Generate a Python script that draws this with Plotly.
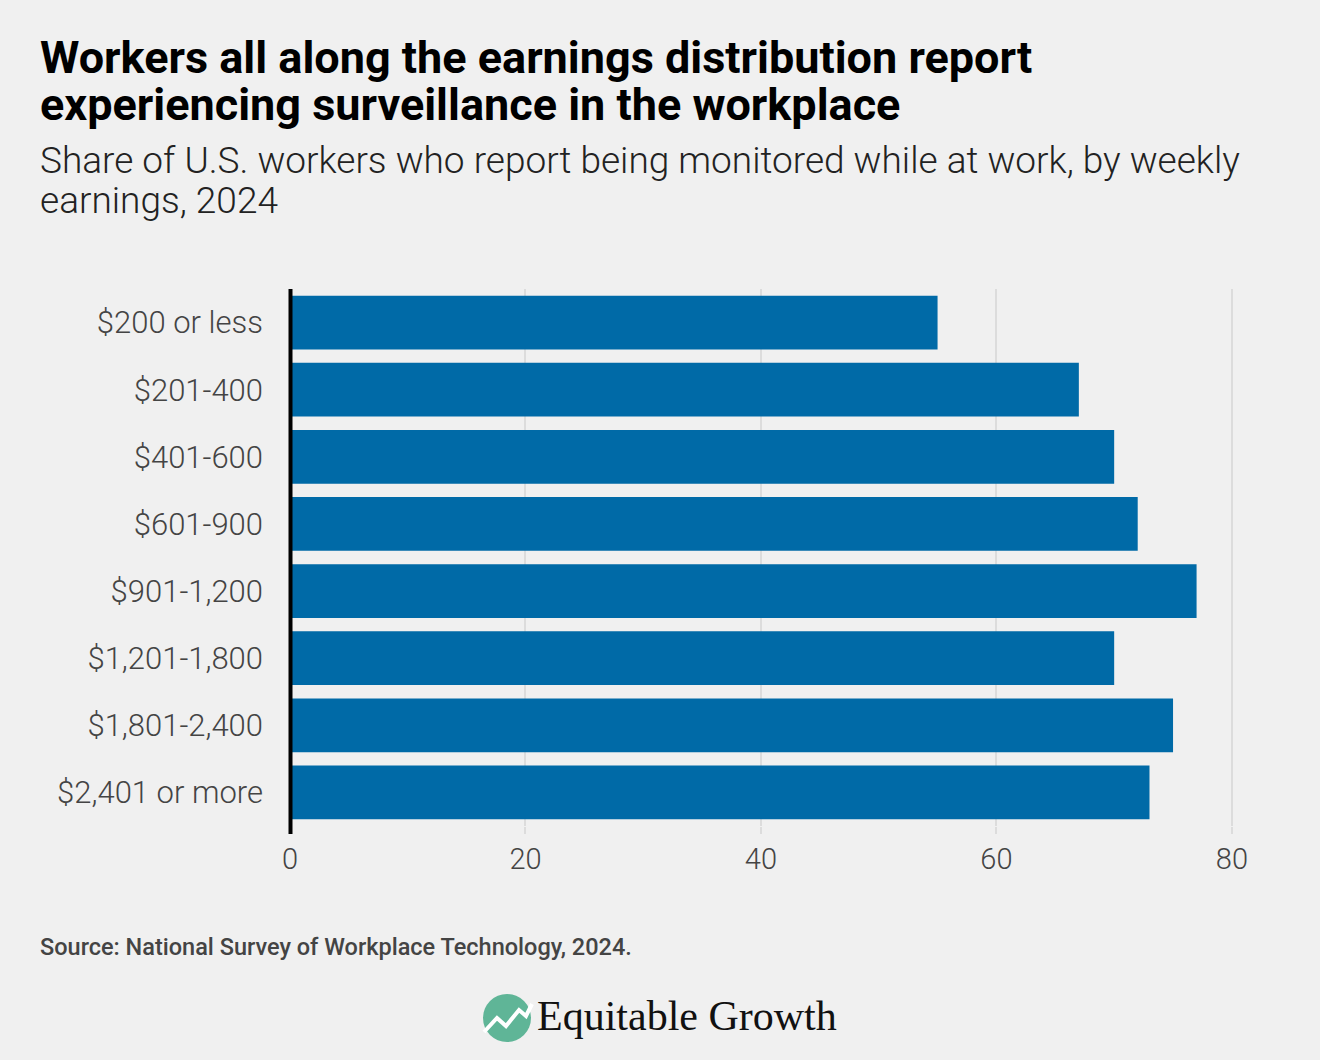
import plotly.graph_objects as go

categories = ["$200 or less", "$201-400", "$401-600", "$601-900", "$901-1,200",
              "$1,201-1,800", "$1,801-2,400", "$2,401 or more"]
shares = [55, 67, 70, 72, 77, 70, 75, 73]
x_ticks = [0, 20, 40, 60, 80]

title_lines = ["Workers all along the earnings distribution report",
               "experiencing surveillance in the workplace"]
subtitle_lines = ["Share of U.S. workers who report being monitored while at work, by weekly",
                  "earnings, 2024"]
source = "Source: National Survey of Workplace Technology, 2024."

W, H = 1320, 1060
L, R, T, B = 290, 1279, 289, 826
def px(x):
    return (x - L) / (R - L)
def py(y):
    return (B - y) / (B - T)

BAR = "#006aa7"
BG = "#f0f0f0"
FONT = "Roboto"

fig = go.Figure(go.Bar(
    y=categories, x=shares, orientation="h",
    marker=dict(color=BAR, line=dict(width=0)),
))

fig.update_layout(
    width=W, height=H,
    margin=dict(l=L, r=W - R, t=T, b=H - B),
    paper_bgcolor=BG, plot_bgcolor=BG,
    bargap=0.2,
    showlegend=False,
    font=dict(family=FONT, color="#444"),
)
fig.update_xaxes(
    range=[0, 84], tickvals=x_ticks, showgrid=True, gridcolor="#dcdcdc", gridwidth=2,
    zeroline=False, showline=False, ticks="outside", ticklen=7, tickcolor="#dcdcdc", tickwidth=2,
    tickfont=dict(size=29, color="#444", family=FONT, weight=300),
)
fig.update_yaxes(
    categoryorder="array", categoryarray=categories, autorange="reversed",
    showgrid=False, zeroline=False, showline=False, ticks="",
    ticklabelstandoff=26,
    tickfont=dict(size=31, color="#444", family=FONT, weight=300),
)

# black vertical baseline
fig.add_shape(type="line", xref="paper", yref="paper", x0=px(290.5), x1=px(290.5),
              y0=py(834), y1=py(289), line=dict(color="black", width=4), layer="above")

for i, line in enumerate(title_lines):
    fig.add_annotation(text=line, xref="paper", yref="paper", x=px(38), y=py(57 + 48 * i),
                       xanchor="left", yanchor="middle", align="left", showarrow=False,
                       font=dict(family=FONT, size=45, color="black", weight=700))
for i, line in enumerate(subtitle_lines):
    fig.add_annotation(text=line, xref="paper", yref="paper", x=px(38), y=py(160 + 40 * i),
                       xanchor="left", yanchor="middle", align="left", showarrow=False,
                       font=dict(family=FONT, size=37, color="#222", weight=300))
fig.add_annotation(text=source, xref="paper", yref="paper", x=px(38), y=py(947),
                   xanchor="left", yanchor="middle", align="left", showarrow=False,
                   font=dict(family=FONT, size=23.5, color="#444", weight=500))

# logo
cx, cy, r = 507, 1018, 24
fig.add_shape(type="circle", xref="paper", yref="paper",
              x0=px(cx - r), x1=px(cx + r), y0=py(cy + r), y1=py(cy - r),
              fillcolor="#5fb597", line=dict(width=0))
zig = [(484, 1032), (497, 1018), (506, 1026), (519, 1010), (526, 1016), (532, 1004)]
path = "M " + " L ".join(f"{px(a)},{py(b)}" for a, b in zig)
fig.add_shape(type="path", xref="paper", yref="paper", path=path,
              line=dict(color="white", width=4))
fig.add_annotation(text="Equitable Growth", xref="paper", yref="paper", x=px(535), y=py(1016),
                   xanchor="left", yanchor="middle", showarrow=False,
                   font=dict(family="Liberation Serif", size=42, color="#111"))

fig.write_html("out.html")
